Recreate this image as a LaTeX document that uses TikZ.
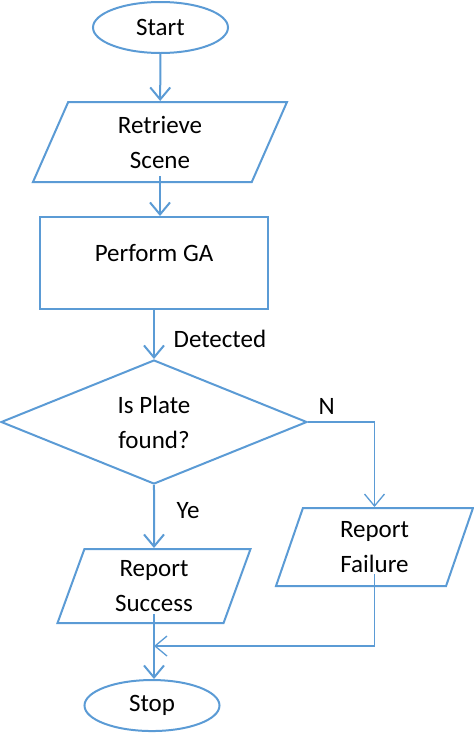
\documentclass[tikz,border=0pt]{standalone}
\usepackage{fontspec}
\setmainfont{Carlito}
\usepackage{tikz}
\usetikzlibrary{positioning,shapes.geometric,arrows.meta}
\definecolor{flowblue}{RGB}{91,155,213}

\begin{document}
\begin{tikzpicture}%
	[font=\fontsize{12.5}{17.5}\selectfont,
	term/.style ={ellipse, draw=flowblue, line width=1pt, minimum width=67.5pt, minimum height=25.5pt, inner sep=0pt},
	io/.style = {trapezium, trapezium stretches body, trapezium left angle=64, trapezium right angle=116, draw=flowblue, line width=1pt, align=center, inner sep=1pt},
	proc/.style = {rectangle, draw=flowblue, line width=1pt, minimum width=114pt, minimum height=46pt},
	decision/.style = {diamond, aspect=2.5, draw=flowblue, line width=1pt, align=center, inner sep=1pt, minimum width=153pt, minimum height=62pt},
	arr/.style = {draw=flowblue, line width=1pt, -{Straight Barb[length=6pt,width=10pt]}},
	thinarr/.style = {arr, line width=0.65pt}]
	\useasboundingbox (-80.25pt,13.75pt) rectangle (156.75pt,-353.25pt);
	
	\node[term] (start) at (0,0) {Start};
	\node[io, trapezium left angle=58, trapezium right angle=122, minimum width=127pt, minimum height=40pt] (retr) [below=23.5pt of start, xshift=-0.25pt] {Retrieve\\Scene};
	\node[proc, text depth=10pt] (perf) [below=16.5pt of retr, xshift=-3pt] {Perform GA};
	\node[decision] (dec) [below=24.5pt of perf] {Is Plate\\found?};
	\node[io, minimum width=96.5pt, minimum height=37pt] (succ) [below=31.5pt of dec] {Report\\Success};
	\node[term] (stop) [below=27.5pt of succ, xshift=-1pt] {Stop};
	\node[io, minimum width=98.5pt, minimum height=39pt] (fail) [below=42.5pt of dec.east, xshift=33.25pt] {Report\\Failure};
	
	\coordinate[above=3.5pt of retr.south] (retrout);
	\coordinate[above=5pt of succ.south] (succout);
	\coordinate[above=6.5pt of fail.south] (failout);
	\coordinate[below=11pt of succ.south] (join);
	
	\draw[arr] (start) -- (retr);
	\draw[arr] (retrout) -- (retrout |- perf.north);
	\draw[arr] (perf) -- node[right=6pt, pos=0.59] {Detected} (dec);
	\draw[arr] (dec) -- node[right=7.5pt, pos=0.4] {Ye} (succ);
	\draw[thinarr] (dec.east) -| node[above, pos=0.14] {N} (fail);
	\draw[arr] (succout) -- (succout |- stop.north);
	\draw[thinarr] (failout) |- (join);
	
\end{tikzpicture}
\end{document}
